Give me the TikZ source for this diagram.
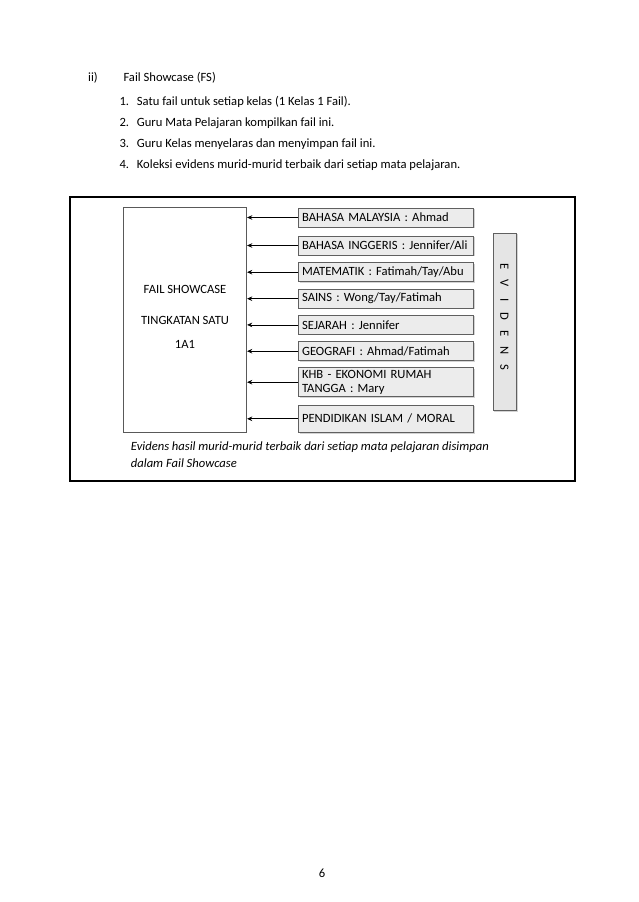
\documentclass[tikz,border=0pt]{standalone}
\usepackage{fontspec}
\setmainfont{Carlito}
\usetikzlibrary{arrows.meta,shadows,positioning}
\tikzset{
  subj/.style={ draw=gray!75!black, fill=gray!15, line width=0.8pt, anchor=west,
    text width=55.4mm, inner xsep=1.1mm, inner ysep=0.4mm, minimum height=6.25mm, align=left,
    drop shadow={shadow xshift=0.35mm, shadow yshift=-0.35mm, opacity=0.35} }
}
\tikzset{
  failbox/.style={ draw=gray!70!black, fill=white, line width=0.8pt, minimum width=40.6mm, minimum height=74.3mm }
}
\tikzset{
  evbox/.style={ draw=gray!75!black, fill=gray!20, line width=0.8pt, minimum width=7.7mm, minimum height=58.4mm,
    drop shadow={shadow xshift=0.35mm, shadow yshift=-0.35mm, opacity=0.35} }
}
\tikzset{
  txt/.style={ anchor=base west, inner xsep=0pt }
}
\tikzset{
  arr/.style={ -{Stealth[length=1.7mm, width=1.5mm]}, line width=0.6pt }
}
\begin{document}
\begin{tikzpicture}[x=0.3292mm, y=-0.3292mm, font=\fontsize{11.8pt}{13.4pt}\selectfont]
      \useasboundingbox (0,0) rectangle (638,902);
      % heading and list
      \node[txt] (ii) at (88,82) {ii)};
      \node[txt] (fs title) at (123.3,82) {Fail Showcase (FS)};
      \foreach \txt [count=\i] in {Satu fail untuk setiap kelas (1 Kelas 1 Fail).,
                                  Guru Mata Pelajaran kompilkan fail ini.,
                                  Guru Kelas menyelaras dan menyimpan fail ini.,
                                  Koleksi evidens murid-murid terbaik dari setiap mata pelajaran.}{
        \node[txt] (num\i) at (119.3, 84.8+21*\i) {\i.};
        \node[txt] (item\i) at (136.7, 84.8+21*\i) {\txt};
      }
      % frame
      \draw[line width=1pt] (70,197) rectangle (575,481);
      % fail showcase box
      \node[failbox] (fs) at (185,320) {};
      \node (fs1) at (185,289) {FAIL SHOWCASE};
      \node (fs2) at (185,320.5) {TINGKATAN SATU};
      \node (fs3) at (185,344) {1A1};
      % subjects
      \node[subj] (bm) at (298.3,217.5) {BAHASA MALAYSIA : Ahmad};
      \node[subj] (bi) at (298.3,245.5) {BAHASA INGGERIS : Jennifer/Ali};
      \node[subj] (mt) at (298.3,272.2) {MATEMATIK : Fatimah/Tay/Abu};
      \node[subj] (sn) at (298.3,298.7) {SAINS : Wong/Tay/Fatimah};
      \node[subj] (sj) at (298.3,324.9) {SEJARAH : Jennifer};
      \node[subj] (geo) at (298.3,351.2) {GEOGRAFI : Ahmad/Fatimah};
      \node[subj, minimum height=9.5mm] (khb) at (298.3,382.2) {KHB - EKONOMI RUMAH\\TANGGA : Mary};
      \node[subj, minimum height=9.1mm] (pi) at (298.3,418.8) {PENDIDIKAN ISLAM / MORAL};
      \foreach \s in {bm,bi,mt,sn,sj,geo,khb,pi}
        \draw[arr] (\s.west) -- (\s.west -| fs.east);
      % evidens
      \node[evbox] (ev) at (505,322) {};
      \foreach \l [count=\i] in {E,V,I,D,E,N,S}
        \node[rotate=-90, inner sep=0pt] (ev\i) at (504.5, 250+16.7*\i) {\l};
      % caption
      \node[txt, font=\fontsize{11.8pt}{13.4pt}\selectfont\itshape] (cap1) at (130.7,450.5) {Evidens hasil murid-murid terbaik dari setiap mata pelajaran disimpan};
      \node[txt, font=\fontsize{11.8pt}{13.4pt}\selectfont\itshape] (cap2) at (130.7,467.2) {dalam Fail Showcase};
      % page number
      \node (page) at (322,873) {6};
    \end{tikzpicture}
\end{document}
